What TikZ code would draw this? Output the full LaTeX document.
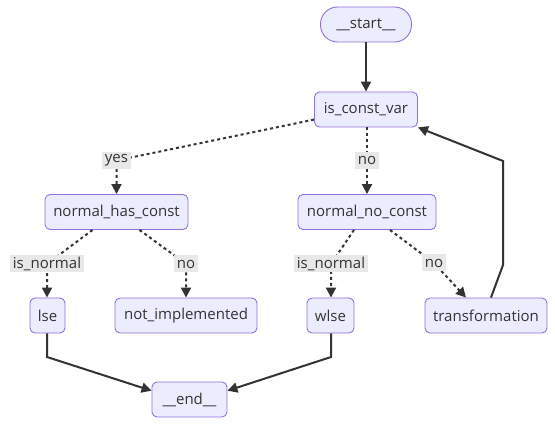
\documentclass[tikz,border=0pt]{standalone}
\usepackage{fontspec}
\setmainfont{Open Sans}
\usetikzlibrary{arrows.meta}
\definecolor{nodefill}{HTML}{ECECFF}
\definecolor{nodeline}{HTML}{9370DB}
\definecolor{edgecol}{HTML}{333333}
\definecolor{lblbg}{HTML}{E8E8E8}
\begin{document}
\begin{tikzpicture}[x=1pt,y=-1pt,
  box/.style={draw=nodeline, fill=nodefill, line width=0.9pt, rounded corners=5pt,
    minimum height=35pt, inner sep=0pt, text=edgecol, font=\fontsize{15}{18}\selectfont},
  lbl/.style={fill=lblbg, text=edgecol, inner xsep=3pt, inner ysep=0pt,
    minimum height=17pt, font=\fontsize{15}{18}\selectfont},
  flow/.style={draw=edgecol, line width=2pt, -{Triangle[length=10pt,width=10pt]}},
  cond/.style={flow, dash pattern=on 3pt off 3pt}
]
\useasboundingbox[fill=white] (0,0) rectangle (555,425);

% nodes
\node[box, rounded corners=17pt, minimum width=91pt] (start) at (366,24.5) {\_\_start\_\_};
\node[box, minimum width=103pt] (isconst) at (366,109.5) {is\_const\_var};
\node[box, minimum width=143pt] (nhc) at (116.5,212) {normal\_has\_const};
\node[box, minimum width=138pt] (nnc) at (367,212) {normal\_no\_const};
\node[box, minimum width=35pt] (lse) at (47.5,315.5) {lse};
\node[box, minimum width=142pt] (notimpl) at (186,315.5) {not\_implemented};
\node[box, minimum width=47pt] (wlse) at (330.5,315.5) {wlse};
\node[box, minimum width=122pt] (transf) at (486,315.5) {transformation};
\node[box, minimum width=75pt] (end) at (189.5,399.5) {\_\_end\_\_};

% label positions and bends
\coordinate (ly) at (116.5,160.5);
\coordinate (ln) at (367,160.5);
\coordinate (l1) at (47,264);
\coordinate (l2) at (186,264);
\coordinate (l3) at (331,264);
\coordinate (l4) at (434,263);
\coordinate (c1) at (503,265);
\coordinate (c2) at (503,161);
\coordinate (c3) at (47,357);
\coordinate (c4) at (331,357);

% edges
\draw[flow] (start.south) -- (isconst.north);
\draw[cond] (isconst.191) -- (ly) -- (nhc.north);
\draw[cond] (ln |- isconst.south) -- (ln |- nnc.north);
\draw[cond] ([xshift=-24pt]nhc.south) -- (l1) -- (l1 |- lse.north);
\draw[cond] ([xshift=23pt]nhc.south) -- (l2) -- (l2 |- notimpl.north);
\draw[cond] ([xshift=-13pt]nnc.south) -- (l3) -- (l3 |- wlse.north);
\draw[cond] ([xshift=23pt]nnc.south) -- (l4) -- ([xshift=-20pt]transf.north);
\draw[flow] ([xshift=5pt]transf.north) -- (c1) -- (c2) -- (isconst.341);
\draw[flow] (c3 |- lse.south) -- (c3) -- (end.167);
\draw[flow] (c4 |- wlse.south) -- (c4) -- (end.13);

% labels
\node[lbl] (lyes) at (ly) {yes};
\node[lbl] (lno) at (ln) {no};
\node[lbl] (lnorm1) at (l1) {is\_normal};
\node[lbl] (lno1) at (l2) {no};
\node[lbl] (lnorm2) at (l3) {is\_normal};
\node[lbl] (lno2) at (l4) {no};
\end{tikzpicture}
\end{document}
